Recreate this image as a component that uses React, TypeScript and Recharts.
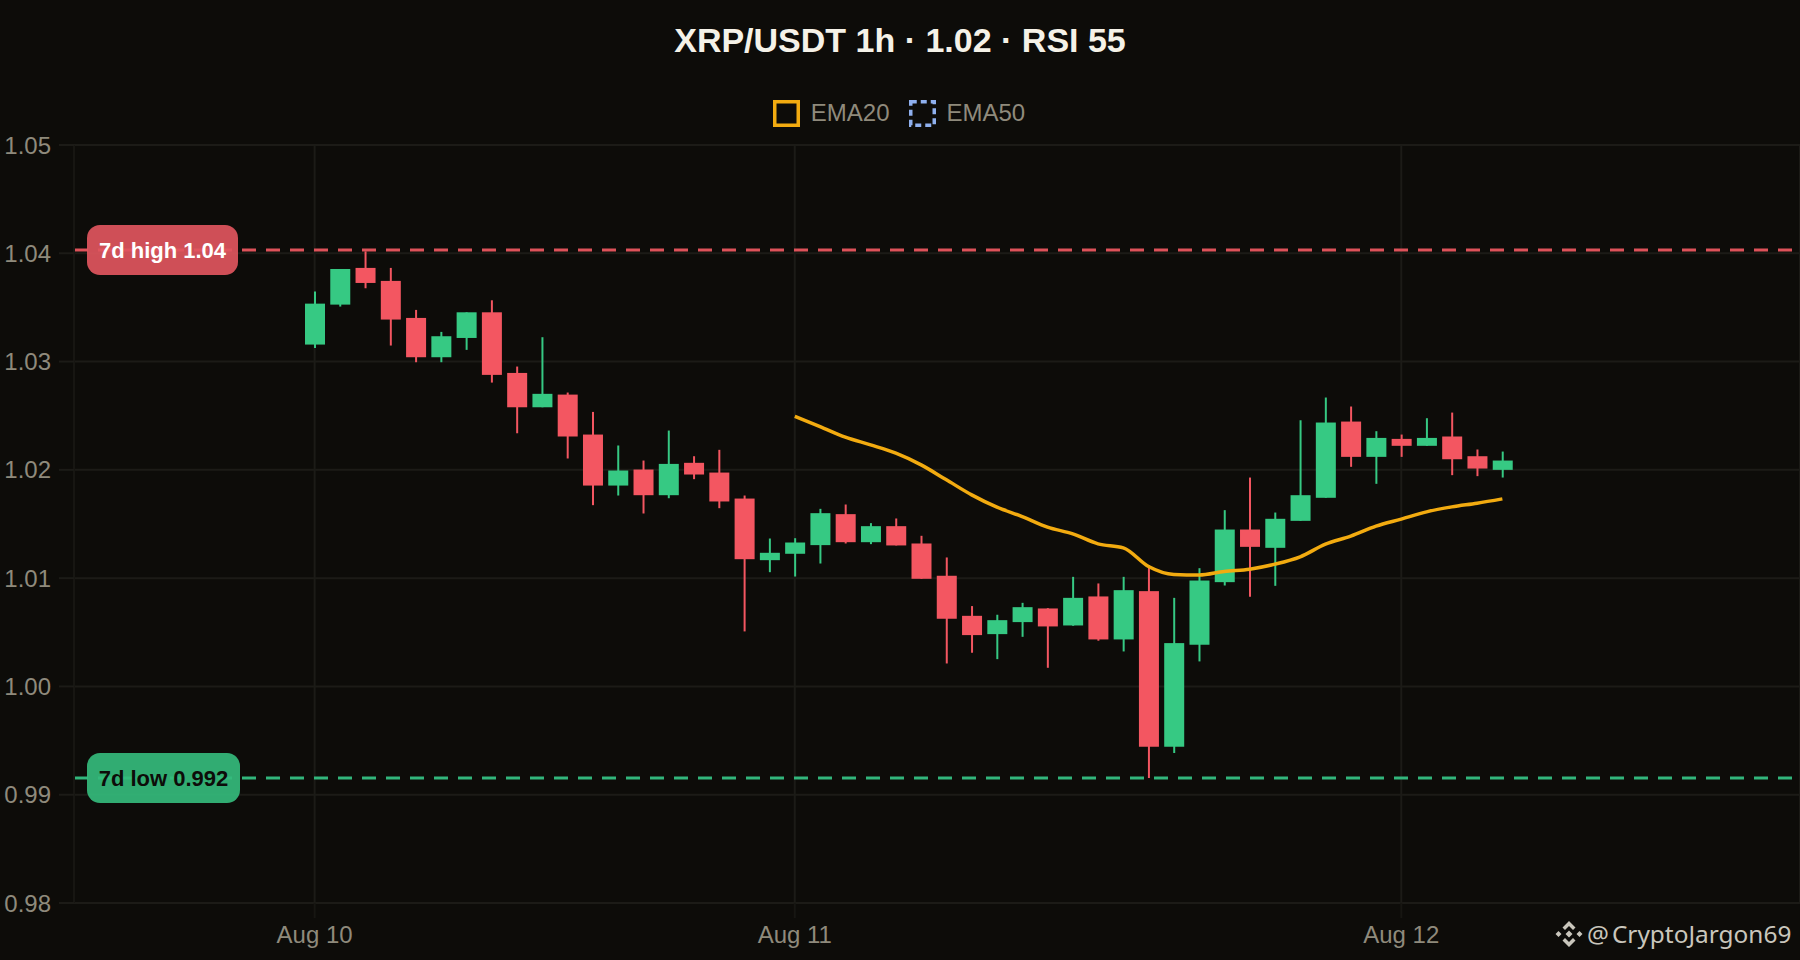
import { Bar, CartesianGrid, ComposedChart, Legend, Line, ReferenceLine, XAxis, YAxis } from "recharts";

const hours = Array.from({ length: 48 }, (_, i) => `h${i}`);
const opens = [
  1.03157, 1.03526, 1.03865, 1.03745, 1.03403, 1.0304, 1.03218, 1.03455, 1.02895, 1.02578, 1.02695, 1.02326,
  1.01855, 1.02003, 1.01766, 1.02065, 1.01975, 1.01735, 1.01166, 1.01225, 1.01305, 1.01591, 1.01332, 1.0148,
  1.0132, 1.01022, 1.00652, 1.00483, 1.00594, 1.0072, 1.00563, 1.00831, 1.00434, 1.0088, 0.99443, 1.00385,
  1.00963, 1.01449, 1.0128, 1.01529, 1.01742, 1.02446, 1.0212, 1.02286, 1.02222, 1.02308, 1.02126, 1.02
];
const closes = [
  1.03535, 1.03855, 1.03726, 1.03388, 1.0304, 1.03234, 1.03455, 1.02877, 1.02578, 1.02702, 1.02308, 1.01855,
  1.01994, 1.01766, 1.02055, 1.01957, 1.01708, 1.01175, 1.01234, 1.01329, 1.016, 1.01332, 1.0148, 1.01302,
  1.00994, 1.00625, 1.00474, 1.00612, 1.00732, 1.00554, 1.00818, 1.00434, 1.00889, 0.99443, 1.004, 1.00978,
  1.01449, 1.01289, 1.01548, 1.01766, 1.02437, 1.0212, 1.02295, 1.02222, 1.02295, 1.02098, 1.02012, 1.02086
];
const highs = [
  1.03646, 1.03855, 1.04018, 1.03865, 1.03477, 1.03274, 1.03455, 1.03566, 1.02954, 1.03225, 1.02714, 1.02535,
  1.02225, 1.02086, 1.02363, 1.02126, 1.02185, 1.01763, 1.01366, 1.01369, 1.0164, 1.0168, 1.01508, 1.01551,
  1.01391, 1.01191, 1.00742, 1.00662, 1.00772, 1.00723, 1.01012, 1.00951, 1.01012, 1.0112, 1.00818, 1.01092,
  1.01628, 1.01929, 1.01606, 1.02458, 1.02668, 1.02585, 1.02357, 1.02326, 1.02477, 1.02529, 1.02188, 1.02169
];
const lows = [
  1.03126, 1.03508, 1.03677, 1.03148, 1.02994, 1.02994, 1.03108, 1.02806, 1.02338, 1.02578, 1.02105, 1.01674,
  1.01763, 1.01597, 1.01738, 1.01914, 1.01646, 1.00508, 1.01055, 1.01015, 1.01135, 1.0132, 1.01314, 1.01302,
  1.00994, 1.00212, 1.00311, 1.00252, 1.00458, 1.00172, 1.0056, 1.00422, 1.00323, 0.99154, 0.99385, 1.00231,
  1.00932, 1.00828, 1.00929, 1.01529, 1.01742, 1.02028, 1.01871, 1.0212, 1.02222, 1.01951, 1.01942, 1.01929
];
const ema20 = [
  null, null, null, null, null, null, null, null, null, null, null, null, null, null, null, null, null, null, null,
  1.02495, 1.024, 1.02302, 1.02231, 1.02154, 1.02046, 1.01908, 1.01769, 1.01655, 1.01569, 1.01471, 1.01409, 1.01317,
  1.0128, 1.01108, 1.01034, 1.01028, 1.01062, 1.01083, 1.01129, 1.01197, 1.01314, 1.01388, 1.0148, 1.01545, 1.01612,
  1.01658, 1.01692, 1.01732
];
const yTicks = [0.98, 0.99, 1.0, 1.01, 1.02, 1.03, 1.04, 1.05];
const dateTicks = ["h0", "h19", "h43"];
const dateLabels: Record<string, string> = { h0: "Aug 10", h19: "Aug 11", h43: "Aug 12" };
const high7d = 1.0403;
const low7d = 0.99154;

const data = hours.map((hour, i) => ({
  hour,
  open: opens[i],
  close: closes[i],
  range: [lows[i], highs[i]],
  ema20: ema20[i],
  ema50: null
}));

const GREEN = "#36c983";
const RED = "#f35661";
const GRID = "#1c1b17";
const GRID_V = "#171612";
const MUTED = "#8f8a7c";
const BG = "#0d0c09";
const SANS = "'Liberation Sans', Arial, sans-serif";

function Candle(props: any) {
  const { x, y, width, height, payload } = props;
  const [low, high] = payload.range;
  const perUnit = height / (high - low);
  const mid = x + width / 2;
  const top = y + (high - Math.max(payload.open, payload.close)) * perUnit;
  const bodyH = Math.abs(payload.close - payload.open) * perUnit;
  const color = payload.close >= payload.open ? GREEN : RED;
  return (
    <g>
      <line x1={mid} x2={mid} y1={y} y2={y + height} stroke={color} strokeWidth={2} />
      <rect x={x} y={top} width={width} height={Math.max(bodyH, 1)} fill={color} />
    </g>
  );
}

function LevelLabel({ viewBox, text, fill, color, width }: any) {
  const left = viewBox.x + 13;
  const cy = viewBox.y;
  return (
    <g>
      <rect x={left} y={cy - 25} width={width} height={50} rx={13} fill={fill} fillOpacity={0.92} />
      <text
        x={left + width / 2}
        y={cy + 8}
        textAnchor="middle"
        fontFamily={SANS}
        fontWeight={700}
        fontSize={22}
        fill={color}
      >
        {text}
      </text>
    </g>
  );
}

function LegendRow({ payload }: any) {
  const items = (payload ?? []).filter((entry: any) => entry.value === "EMA20" || entry.value === "EMA50");
  return (
    <div style={{ display: "flex", justifyContent: "center", alignItems: "center", fontFamily: SANS, fontSize: 24 }}>
      {items.map((entry: any, i: number) => (
        <div
          key={entry.value}
          style={{ display: "flex", alignItems: "center", marginRight: i === 0 ? 19 : 0, color: MUTED }}
        >
          <svg width={27} height={27} style={{ marginRight: 11 }}>
            <rect
              x={1.75}
              y={1.75}
              width={23.5}
              height={23.5}
              fill="none"
              stroke={entry.color}
              strokeWidth={3.5}
              strokeDasharray={entry.value === "EMA50" ? "6 4" : undefined}
            />
          </svg>
          {entry.value}
        </div>
      ))}
    </div>
  );
}

export default function App() {
  return (
    <div style={{ position: "absolute", left: 0, top: 0, width: 1800, height: 960, background: BG, overflow: "hidden" }}>
      <style>{`body{margin:0;background:${BG}}`}</style>
      <div
        style={{
          position: "absolute",
          top: 21,
          width: 1800,
          textAlign: "center",
          fontFamily: SANS,
          fontWeight: 700,
          fontSize: 34,
          color: "#f5f2e8"
        }}
      >
        XRP/USDT 1h · 1.02 · RSI 55
      </div>
      <ComposedChart width={1800} height={960} data={data} margin={{ top: 145, right: 0, bottom: 0, left: 0 }}>
        <CartesianGrid stroke={GRID} strokeWidth={2} />
        <XAxis
          dataKey="hour"
          ticks={dateTicks}
          interval={0}
          tickFormatter={(v) => dateLabels[v]}
          height={57}
          padding={{ left: 228, right: 285 }}
          axisLine={false}
          tickSize={15}
          tickMargin={8}
          tickLine={{ stroke: GRID_V, strokeWidth: 2 }}
          tick={{ fill: MUTED, fontSize: 24, fontFamily: SANS }}
        />
        <YAxis
          domain={[0.98, 1.05]}
          ticks={yTicks}
          interval={0}
          width={74}
          tickFormatter={(v) => v.toFixed(2)}
          axisLine={{ stroke: GRID_V, strokeWidth: 2 }}
          tickSize={15}
          tickMargin={8}
          tickLine={{ stroke: GRID, strokeWidth: 2 }}
          tick={{ fill: MUTED, fontSize: 24, fontFamily: SANS }}
        />
        <Legend
          layout="horizontal"
          align="center"
          verticalAlign="middle"
          wrapperStyle={{ top: 99, left: 0, width: 1798 }}
          content={<LegendRow />}
        />
        <Bar dataKey="range" barSize={20} isAnimationActive={false} shape={<Candle />} legendType="none" />
        <Line
          dataKey="ema20"
          name="EMA20"
          type="monotone"
          stroke="#f2ab10"
          strokeWidth={3.5}
          dot={false}
          connectNulls={false}
          isAnimationActive={false}
        />
        <Line
          dataKey="ema50"
          name="EMA50"
          type="monotone"
          stroke="#8fb0ee"
          strokeWidth={3}
          dot={false}
          isAnimationActive={false}
        />
        <ReferenceLine
          y={high7d}
          stroke="#dd525a"
          strokeWidth={3}
          strokeDasharray="14 10"
          label={<LevelLabel text="7d high 1.04" fill="#e0565e" color="#ffffff" width={151} />}
        />
        <ReferenceLine
          y={low7d}
          stroke="#32b67c"
          strokeWidth={3}
          strokeDasharray="14 10"
          label={<LevelLabel text="7d low 0.992" fill="#34bb7c" color={BG} width={153} />}
        />
      </ComposedChart>
      <div
        style={{
          position: "absolute",
          left: 1555,
          top: 917,
          display: "flex",
          alignItems: "center",
          fontFamily: "'Noto Sans', sans-serif",
          fontSize: 24.4,
          color: "#c9c6bc"
        }}
      >
        <svg width={28} height={28} viewBox="0 0 28 28" style={{ marginRight: 4 }}>
          <path
            fill="#c9c6bc"
            d="M14 1l6.5 6.5L18 10l-4-4-4 4-2.5-2.5zM3.5 11l3 3-3 3-3-3zM24.5 11l3 3-3 3-3-3zM14 10.5l3.5 3.5-3.5 3.5-3.5-3.5zM10 18l4 4 4-4 2.5 2.5L14 27l-6.5-6.5z"
          />
        </svg>
        <span style={{ marginRight: 3 }}>@</span>
        <span>CryptoJargon69</span>
      </div>
    </div>
  );
}
